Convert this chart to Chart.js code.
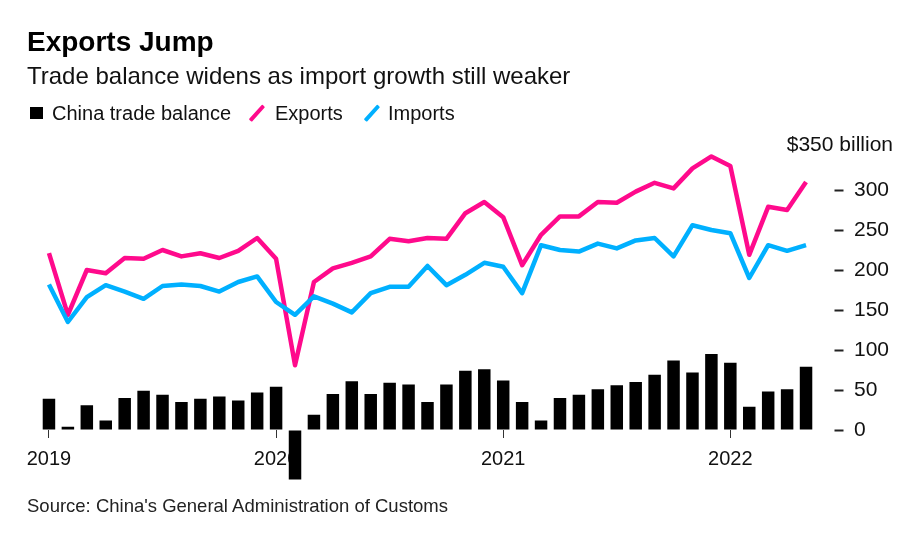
<!DOCTYPE html>
<html>
<head>
<meta charset="utf-8">
<script src="https://cdn.jsdelivr.net/npm/chart.js@4.4.1/dist/chart.umd.min.js"></script>
<style>
  body { margin: 0; background: #fff; }
  #wrap { position: relative; width: 922px; height: 539px; background: #fff; overflow: hidden;
          font-family: "Liberation Sans", Arial, sans-serif; color: #000; }
  #wrap canvas { position: absolute; left: 0; top: 0; }
  .txt { position: absolute; white-space: nowrap; line-height: 1; }
  .title { left: 27px; top: 28px; font-size: 28px; font-weight: bold; }
  .subtitle { left: 27px; top: 64px; font-size: 24px; color: #111; }
  .legend { top: 103px; font-size: 20px; color: #111; }
  .swatch { position: absolute; top: 107px; left: 30px; width: 13px; height: 12px; background: #000; }
  .slash { position: absolute; top: 103px; width: 3.5px; height: 20px; transform: rotate(42deg); border-radius: 1px; }
  .unit { right: 29px; top: 133px; font-size: 21px; color: #111; }
  .source { left: 27px; top: 497px; font-size: 18.5px; color: #222; }
</style>
</head>
<body>
<div id="wrap">
  <canvas id="tradeChart" width="922" height="539"></canvas>
  <div class="txt title">Exports Jump</div>
  <div class="txt subtitle">Trade balance widens as import growth still weaker</div>
  <div class="swatch"></div>
  <div class="txt legend" style="left:52px">China trade balance</div>
  <div class="slash" style="left:255px; background:#ff0a8c"></div>
  <div class="txt legend" style="left:275px">Exports</div>
  <div class="slash" style="left:370px; background:#00b0ff"></div>
  <div class="txt legend" style="left:388px">Imports</div>
  <div class="txt unit">$350 billion</div>
  <div class="txt source">Source: China's General Administration of Customs</div>
</div>
<script>
// Mois (janv. 2019 - mai 2022)
const months = [
  '2019-01', '2019-02', '2019-03', '2019-04', '2019-05', '2019-06', '2019-07', '2019-08', '2019-09', '2019-10', '2019-11', '2019-12',
  '2020-01', '2020-02', '2020-03', '2020-04', '2020-05', '2020-06', '2020-07', '2020-08', '2020-09', '2020-10', '2020-11', '2020-12',
  '2021-01', '2021-02', '2021-03', '2021-04', '2021-05', '2021-06', '2021-07', '2021-08', '2021-09', '2021-10', '2021-11', '2021-12',
  '2022-01', '2022-02', '2022-03', '2022-04', '2022-05'
];

// Balance commerciale, milliards $
const tradeBalance = [
  39, 4, 31, 12, 40, 49, 44, 35, 39, 42, 37, 47,
  54, -62, 19, 45, 61, 45, 59, 57, 35, 57, 74, 76,
  62, 35, 12, 40, 44, 51, 56, 60, 69, 87, 72, 95,
  84, 29, 48, 51, 79
];

// Exportations
const exportsData = [
  221, 144, 200, 196, 215, 214, 225, 217, 221, 215, 224, 240,
  214, 81, 185, 202, 209, 217, 239, 236, 240, 239, 271, 285,
  266, 206, 244, 267, 267, 285, 284, 298, 309, 302, 327, 342,
  330, 219, 279, 275, 310
];

// Importations
const importsData = [
  182, 135, 166, 181, 173, 164, 180, 182, 180, 173, 185, 192,
  160, 144, 167, 158, 147, 171, 179, 179, 205, 181, 194, 209,
  204, 171, 231, 225, 223, 233, 227, 237, 240, 217, 256, 250,
  246, 190, 231, 224, 231
];

// Graduations de l'axe Y
const yTicks = [0, 50, 100, 150, 200, 250, 300];

const PINK = '#ff0a8c';
const BLUE = '#00b0ff';

Chart.defaults.font.family = '"Liberation Sans", Arial, sans-serif';
Chart.defaults.color = '#111';

const isYearStart = i => months[i] && months[i].endsWith('-01');

const ctx = document.getElementById('tradeChart').getContext('2d');
new Chart(ctx, {
  type: 'bar',
  data: {
    labels: months,
    datasets: [
      {
        type: 'line',
        label: 'Imports',
        data: importsData,
        borderColor: BLUE,
        borderWidth: 4.5,
        borderJoinStyle: 'round',
        pointRadius: 0,
        tension: 0,
        order: 1
      },
      {
        type: 'line',
        label: 'Exports',
        data: exportsData,
        borderColor: PINK,
        borderWidth: 4.5,
        borderJoinStyle: 'round',
        pointRadius: 0,
        tension: 0,
        order: 2
      },
      {
        label: 'China trade balance',
        data: tradeBalance,
        backgroundColor: '#000',
        barPercentage: 0.66,
        categoryPercentage: 1,
        order: 3
      }
    ]
  },
  options: {
    responsive: false,
    animation: false,
    layout: { padding: { left: 39.5, right: 0, top: 150, bottom: 57 } },
    plugins: {
      legend: { display: false },
      tooltip: { enabled: false }
    },
    scales: {
      x: {
        position: { y: 0 },
        offset: true,
        border: { display: false },
        grid: {
          drawOnChartArea: false,
          offset: false,
          tickLength: 8,
          tickWidth: 1,
          tickColor: c => (isYearStart(c.index) ? '#333' : 'rgba(0,0,0,0)')
        },
        ticks: {
          autoSkip: false,
          maxRotation: 0,
          padding: 9,
          color: '#111',
          font: { size: 20 },
          callback: (value, index) => (isYearStart(index) ? months[index].slice(0, 4) : '')
        }
      },
      y: {
        position: 'right',
        min: -65,
        max: 350,
        border: { display: false },
        afterFit: scale => { scale.width = 106.5; },
        afterBuildTicks: scale => { scale.ticks = yTicks.map(v => ({ value: v })); },
        grid: {
          drawOnChartArea: false,
          tickLength: 28,
          tickWidth: 2,
          tickColor: '#222',
          tickBorderDash: [0, 18.5, 9, 60]
        },
        ticks: {
          crossAlign: 'near',
          padding: 10.5,
          color: '#111',
          font: { size: 21 },
          callback: v => String(v)
        }
      }
    }
  }
});
</script>
</body>
</html>
